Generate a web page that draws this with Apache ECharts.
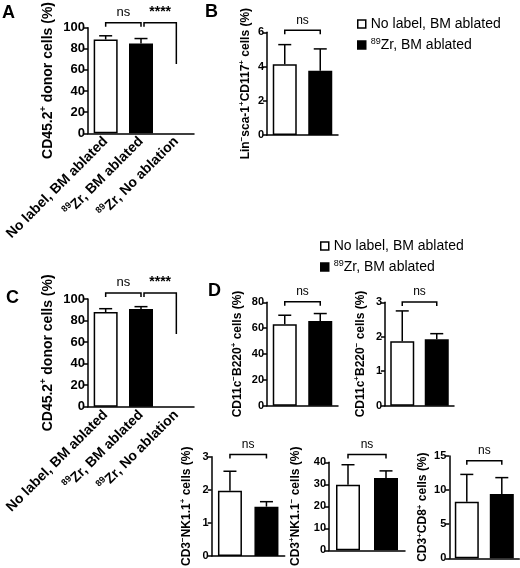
<!DOCTYPE html>
<html>
<head>
<meta charset="utf-8">
<script src="https://cdn.jsdelivr.net/npm/echarts@6/dist/echarts.min.js"></script>
<style>
  html, body { margin: 0; padding: 0; background: #fff; }
  #chart { width: 520px; height: 568px; }
</style>
</head>
<body>
<div id="chart"></div>
<script>
// groups (legend)
const groupNames = ['No label, BM ablated', '89Zr, BM ablated']
const donorCats = ['No label, BM ablated', '89Zr, BM ablated', '89Zr, No ablation']
const pairCats = ['No label, BM ablated', '89Zr, BM ablated']

// A: donor chimerism
const donorA = [88.8, 85.1]
const donorAErr = [3.5, 4.6]
const donorABrackets = [[0, 1, 104.6], [1, 2, 104.6, 65.6]]
const donorALabels = ['ns', '****']

// B: LSK
const lsk = [4.14, 3.75]
const lskErr = [1.14, 1.28]
const lskBrackets = [[0, 1, 6.12]]

// C: donor chimerism, second cohort
const donorC = [87.9, 90.7]
const donorCErr = [3.1, 2.2]
const donorCBrackets = [[0, 1, 105.6], [1, 2, 105.6, 67.5]]
const donorCLabels = ['ns', '****']

// D: lineages
const bCells = [63.0, 65.6]
const bCellsErr = [7.0, 5.7]
const bCellsBrackets = [[0, 1, 80.5]]

const dCells = [1.87, 1.93]
const dCellsErr = [0.88, 0.16]
const dCellsBrackets = [[0, 1, 3.01]]

const nkCells = [1.97, 1.49]
const nkCellsErr = [0.59, 0.15]
const nkCellsBrackets = [[0, 1, 3.07]]

const nktCells = [29.8, 32.9]
const nktCellsErr = [9.1, 3.2]
const nktCellsBrackets = [[0, 1, 43.5]]

const cd8Cells = [8.3, 9.43]
const cd8CellsErr = [4.0, 2.4]
const cd8CellsBrackets = [[0, 1, 14.3]]

const FONT = 'Liberation Sans, Arial, sans-serif'

const panels = [
  { grid: { left: 88, top: 25.7, width: 106, height: 107.6 }, cats: donorCats, means: donorA, errs: donorAErr,
    max: 100, interval: 20, name: '{n|CD45.2}{sup|+}{n| donor cells (%)}', nameGap: 31, big: true,
    brackets: donorABrackets, labels: donorALabels, showCats: true },
  { grid: { left: 267, top: 32.3, width: 71, height: 102.7 }, cats: pairCats, means: lsk, errs: lskErr,
    max: 6, interval: 2, name: '{n|Lin}{sup|−}{n|sca-1}{sup|+}{n|CD117}{sup|+}{n| cells (%)}', nameGap: 14,
    brackets: lskBrackets, labels: ['ns'] },
  { grid: { left: 88, top: 299, width: 106, height: 107.7 }, cats: donorCats, means: donorC, errs: donorCErr,
    max: 100, interval: 20, name: '{n|CD45.2}{sup|+}{n| donor cells (%)}', nameGap: 31, big: true,
    brackets: donorCBrackets, labels: donorCLabels, showCats: true },
  { grid: { left: 267, top: 302.3, width: 71, height: 103.4 }, cats: pairCats, means: bCells, errs: bCellsErr,
    max: 80, interval: 20, name: '{n|CD11c}{sup|−}{n|B220}{sup|+}{n| cells (%)}', nameGap: 22,
    brackets: bCellsBrackets, labels: ['ns'] },
  { grid: { left: 385, top: 302.3, width: 69, height: 103.4 }, cats: pairCats, means: dCells, errs: dCellsErr,
    max: 3, interval: 1, name: '{n|CD11c}{sup|+}{n|B220}{sup|−}{n| cells (%)}', nameGap: 17,
    brackets: dCellsBrackets, labels: ['ns'] },
  { grid: { left: 211.7, top: 456.7, width: 73, height: 101.6 }, cats: pairCats, means: nkCells, errs: nkCellsErr,
    max: 3, interval: 1, name: '{n|CD3}{sup|−}{n|NK1.1}{sup|+}{n| cells (%)}', nameGap: 18,
    brackets: nkCellsBrackets, labels: ['ns'] },
  { grid: { left: 329, top: 462.3, width: 76, height: 96 }, cats: pairCats, means: nktCells, errs: nktCellsErr,
    max: 40, interval: 10, name: '{n|CD3}{sup|+}{n|NK1.1}{sup|−}{n| cells (%)}', nameGap: 26,
    brackets: nktCellsBrackets, labels: ['ns'] },
  { grid: { left: 449.3, top: 456, width: 70, height: 102.3 }, cats: pairCats, means: cd8Cells, errs: cd8CellsErr,
    max: 15, interval: 5, name: '{n|CD3}{sup|+}{n|CD8}{sup|+}{n| cells (%)}', nameGap: 19,
    brackets: cd8CellsBrackets, labels: ['ns'] }
]

function supRich(size) {
  const lh = Math.round(size * 1.25)
  return {
    n: { fontFamily: FONT, fontWeight: 'bold', fontSize: size, lineHeight: lh, color: '#000' },
    sup: { fontFamily: FONT, fontWeight: 'bold', fontSize: Math.round(size * 0.65), lineHeight: lh, verticalAlign: 'top', color: '#000' }
  }
}

function catLabel(value) {
  if (value.indexOf('89') === 0) return '{sup|89}{n|' + value.slice(2) + '}'
  return '{n|' + value + '}'
}

const axisLine = { lineStyle: { color: '#000', width: 1.5 } }
const axisTick = { length: 4, lineStyle: { color: '#000', width: 1.5 } }

const grid = []
const xAxis = []
const yAxis = []
const series = []

panels.forEach((p, i) => {
  grid.push(p.grid)
  xAxis.push({
    type: 'category', gridIndex: i, data: p.cats,
    axisLine, axisTick: { ...axisTick, alignWithLabel: true },
    axisLabel: p.showCats
      ? { show: true, rotate: 45, margin: 6, formatter: catLabel, rich: supRich(14), interval: 0 }
      : { show: false }
  })
  yAxis.push({
    type: 'value', gridIndex: i, min: 0, max: p.max, interval: p.interval,
    splitLine: { show: false },
    axisLine: { show: true, ...axisLine }, axisTick: { show: true, ...axisTick },
    axisLabel: { margin: 3, color: '#000', fontFamily: FONT, fontWeight: 'bold', fontSize: p.big ? 13 : 11 },
    name: p.name, nameLocation: 'middle', nameGap: p.nameGap,
    nameTextStyle: { rich: supRich(p.big ? 14 : 12) }
  })

  groupNames.forEach((g, k) => {
    series.push({
      type: 'bar', name: g, xAxisIndex: i, yAxisIndex: i,
      barWidth: 24, barGap: '-100%',
      data: p.cats.map((c, j) => (j === k ? p.means[j] : '-')),
      itemStyle: { color: k === 0 ? '#fff' : '#000', borderColor: '#000', borderWidth: 1.5 },
      silent: true
    })
  })

  // error bars (upper whisker only)
  series.push({
    type: 'custom', xAxisIndex: i, yAxisIndex: i, clip: false, silent: true, z: 5,
    encode: { x: 0, y: 1 },
    data: p.means.map((m, j) => [j, m, p.errs[j]]),
    renderItem(params, api) {
      const base = api.coord([api.value(0), api.value(1)])
      const top = api.coord([api.value(0), api.value(1) + api.value(2)])
      const half = 6.5
      const st = { stroke: '#000', lineWidth: 1.5 }
      return {
        type: 'group', children: [
          { type: 'line', shape: { x1: base[0], y1: base[1], x2: top[0], y2: top[1] }, style: st },
          { type: 'line', shape: { x1: top[0] - half, y1: top[1], x2: top[0] + half, y2: top[1] }, style: st }
        ]
      }
    }
  })

  // significance brackets
  const br = p.brackets
  series.push({
    type: 'custom', xAxisIndex: i, yAxisIndex: i, clip: false, silent: true, z: 5,
    encode: { x: [0, 1], y: [2, 3] },
    data: br.map(b => [b[0], b[1], b[2], b[3] != null ? b[3] : b[2]]),
    renderItem(params, api) {
      const b = br[params.dataIndex]
      const p1 = api.coord([b[0], b[2]])
      const p2 = api.coord([b[1], b[2]])
      let x1 = p1[0]
      const x2 = p2[0]
      const y = p1[1]
      if (br.some(o => o !== b && o[1] === b[0])) x1 += 3
      const yR = b[3] != null ? api.coord([b[1], b[3]])[1] : y + 4
      const text = p.labels[params.dataIndex]
      return {
        type: 'group', children: [
          { type: 'polyline', shape: { points: [[x1, y + 4], [x1, y], [x2, y], [x2, yR]] },
            style: { stroke: '#000', fill: null, lineWidth: 1.5 } },
          { type: 'text', style: {
              text, x: (x1 + x2) / 2, y: y - 4, align: 'center', verticalAlign: 'bottom',
              fill: '#000', fontFamily: FONT, fontSize: text === 'ns' ? (p.big ? 13 : 12) : 14,
              fontWeight: text === 'ns' ? 'normal' : 'bold'
          } }
        ]
      }
    }
  })
})

const legendBase = {
  orient: 'vertical', icon: 'rect', itemWidth: 8, itemHeight: 8, itemGap: 6, itemStyle: { borderWidth: 1.5 },
  selectedMode: false, data: groupNames,
  formatter: name => (name.indexOf('89') === 0 ? '{s|89}{t|' + name.slice(2) + '}' : '{t|' + name + '}'),
  textStyle: {
    rich: {
      t: { fontFamily: FONT, fontSize: 14, lineHeight: 16, color: '#000' },
      s: { fontFamily: FONT, fontSize: 9, lineHeight: 16, verticalAlign: 'top', color: '#000' }
    }
  }
}

const letter = (text, left, top) => ({
  text, left, top, padding: 0,
  textStyle: { fontFamily: FONT, fontWeight: 'bold', fontSize: 18, color: '#000' }
})

const option = {
  animation: false,
  backgroundColor: '#fff',
  textStyle: { fontFamily: FONT },
  title: [letter('A', 2, 4), letter('B', 205, 3), letter('C', 6, 289), letter('D', 208, 282)],
  legend: [
    { ...legendBase, left: 352, top: 12 },
    { ...legendBase, left: 315, top: 234 }
  ],
  grid, xAxis, yAxis, series
}

const chart = echarts.init(document.getElementById('chart'))
chart.setOption(option)
</script>
</body>
</html>
